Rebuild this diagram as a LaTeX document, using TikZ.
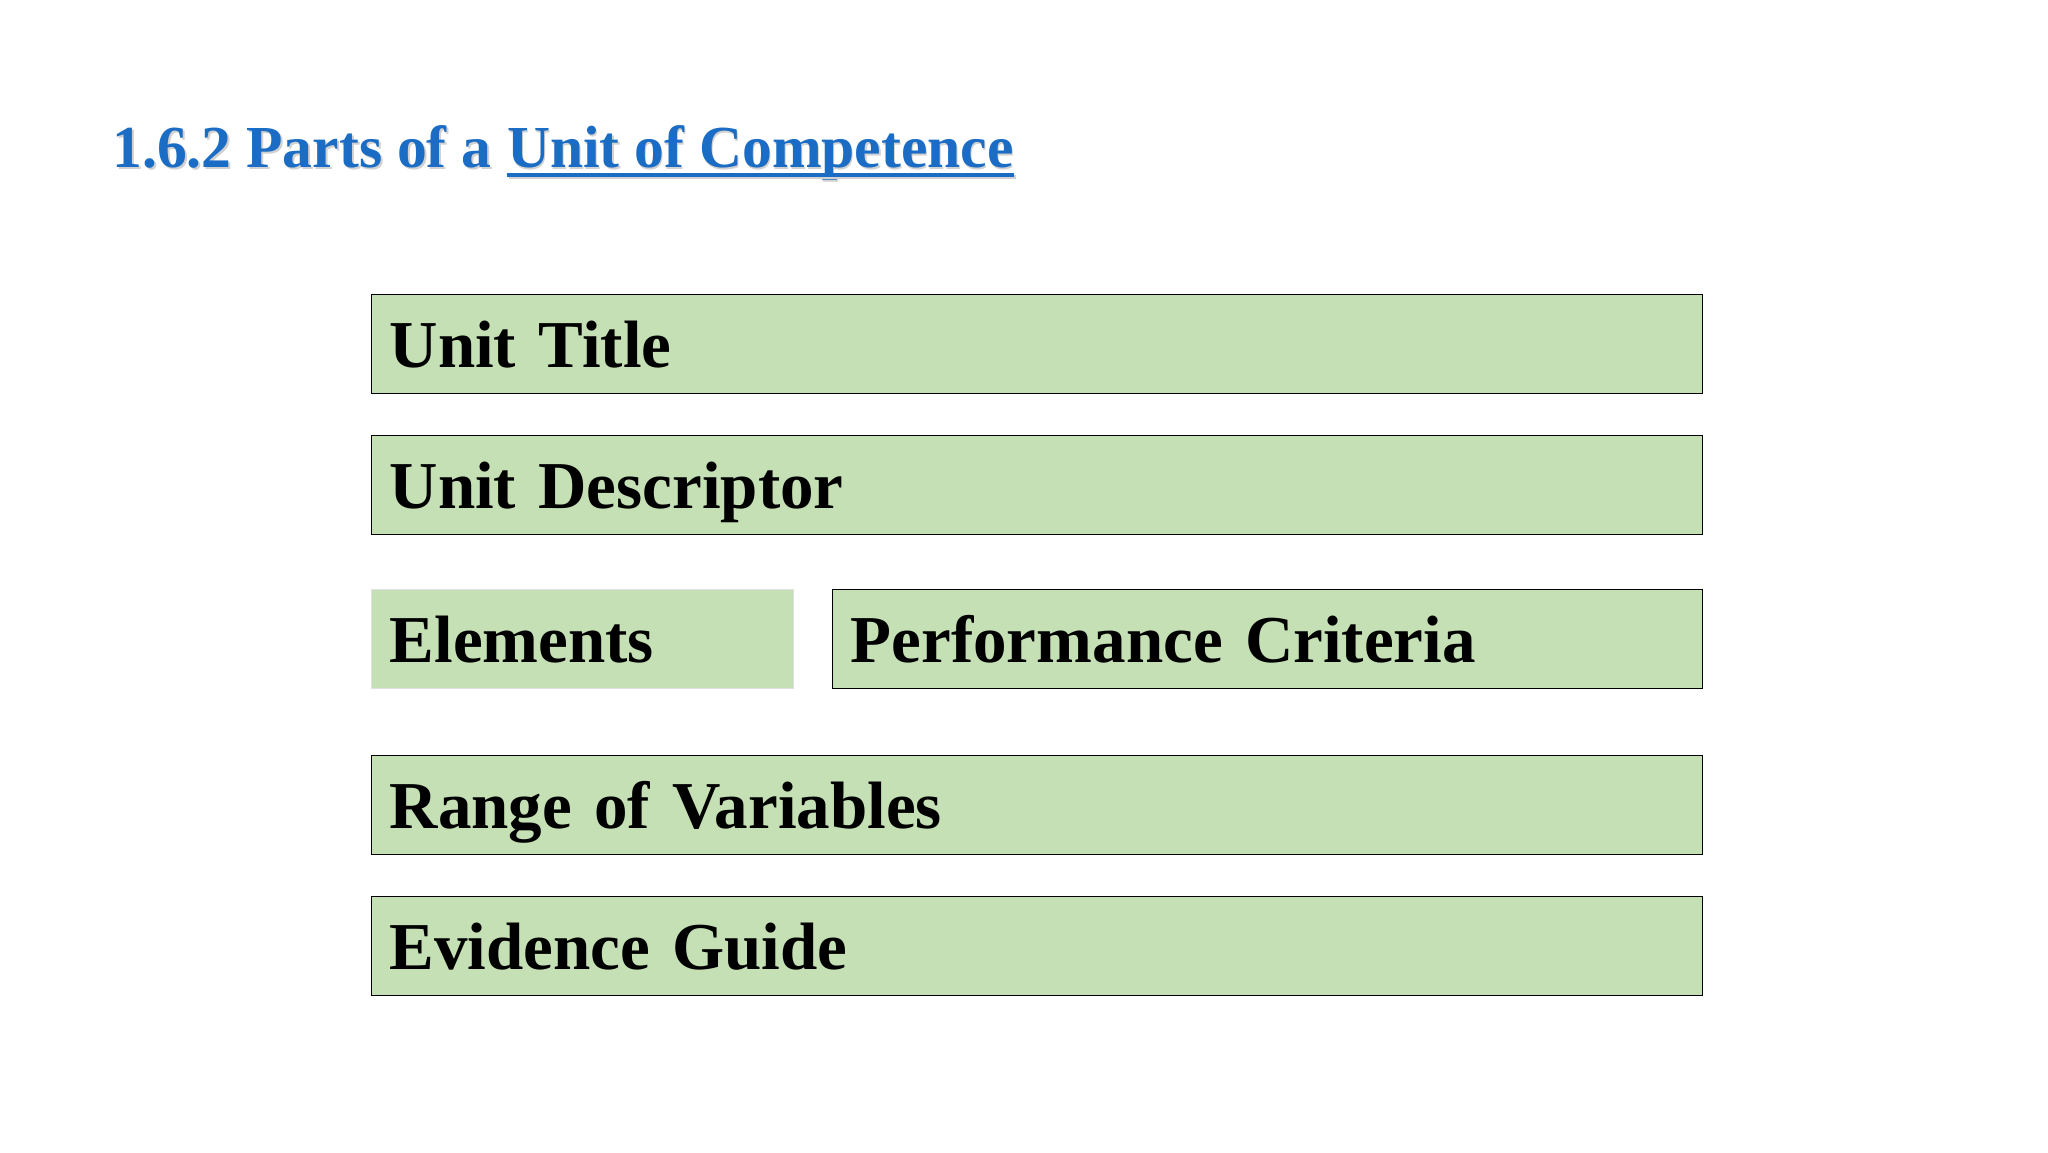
\documentclass[tikz,border=0pt]{standalone}
\usepackage{fontspec}
\setmainfont{Liberation Serif}
\usetikzlibrary{positioning}

\definecolor{titleblue}{HTML}{1A6CC4}
\definecolor{boxgreen}{HTML}{C5E0B4}

\tikzset{
  partbox/.style={draw=black, line width=0.7pt, fill=boxgreen,
    anchor=north west, minimum height=49.5pt, inner xsep=9pt, inner ysep=0pt,
    text width=#1, align=left,
    execute at begin node=\rule[-8pt]{0pt}{39pt},
    font=\fontsize{33.5}{40}\selectfont\bfseries},
  heading/.style={anchor=base west, inner sep=0pt,
    font=\fontsize{29.8}{34}\selectfont\bfseries}
}

\begin{document}
\begin{tikzpicture}[x=0.5pt, y=-0.5pt]

      \useasboundingbox (0, 0) rectangle (2048, 1152);

      % heading with its soft shadow
      \node[heading, text=black!18] (headshadow) at (114, 169)
        {1.6.2 Parts of a Unit of Competence};
      \node[heading, text=titleblue] (head) at (112, 167)
        {1.6.2 Parts of a};
      \node[heading, text=titleblue] (headlink) at ([xshift=7.45pt]head.base east)
        {Unit of Competence};
      \draw[black!18, line width=2pt] ([xshift=1pt, yshift=-5pt]headlink.base west)
        -- ([xshift=1pt, yshift=-5pt]headlink.base east);
      \draw[titleblue, line width=2pt] ([yshift=-4pt]headlink.base west)
        -- ([yshift=-4pt]headlink.base east);

      % the parts
      \node[partbox=647.5pt] (title) at (371, 294) {Unit Title};
      \node[partbox=647.5pt] (descriptor) at (371, 435) {Unit Descriptor};
      \node[partbox=193pt, draw=black!12] (elements) at (371, 589) {Elements};
      \node[partbox=417pt] (criteria) at (832, 589) {Performance Criteria};
      \node[partbox=647.5pt] (range) at (371, 755) {Range of Variables};
      \node[partbox=647.5pt] (evidence) at (371, 896) {Evidence Guide};

    \end{tikzpicture}
\end{document}
